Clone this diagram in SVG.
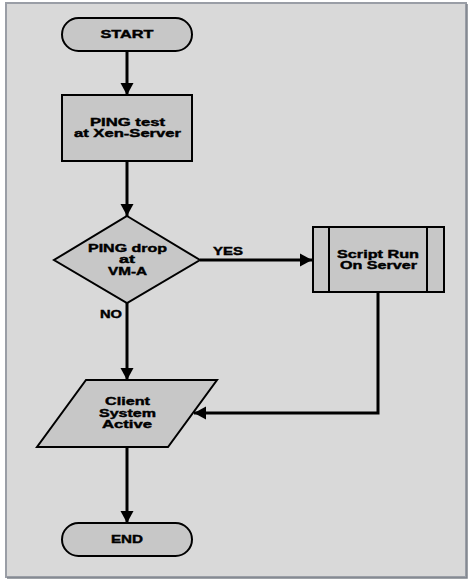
<svg xmlns="http://www.w3.org/2000/svg" width="474" height="585" viewBox="0 0 474 585">
<style>
.shape{fill:#c7c7c7;stroke:#000;stroke-width:2}
.conn{fill:none;stroke:#000;stroke-width:3}
text{font-family:"Liberation Sans",Arial,sans-serif;font-weight:bold;font-size:10.5px;fill:#000;stroke:#000;stroke-width:0.4;text-anchor:middle}
</style>
<defs>
<marker id="arr" markerUnits="userSpaceOnUse" markerWidth="14" markerHeight="14" viewBox="0 0 12 14" refX="12" refY="7" orient="auto">
<path d="M0,0.5 L12,7 L0,13.5 Z" fill="#000"/>
</marker>
</defs>
<rect x="0" y="0" width="474" height="585" fill="#fff"/>
<rect x="6" y="3" width="460" height="574" fill="#d9d9d9" stroke="#9a9ea6" stroke-width="2"/>
<path d="M467,4 V578 H7" fill="none" stroke="#7f848c" stroke-width="1.5"/>
<g id="connectors">
<path class="conn" d="M127,51 V95" marker-end="url(#arr)"/>
<path class="conn" d="M127,162 V216" marker-end="url(#arr)"/>
<path class="conn" d="M200,260 H312" marker-end="url(#arr)"/>
<path class="conn" d="M127,303 V380" marker-end="url(#arr)"/>
<path class="conn" d="M378,293 V413 H194" marker-end="url(#arr)"/>
<path class="conn" d="M127,447 V523" marker-end="url(#arr)"/>
<text x="228" y="255" textLength="30" lengthAdjust="spacingAndGlyphs">YES</text>
<text x="111" y="318" textLength="22" lengthAdjust="spacingAndGlyphs">NO</text>
</g>
<g id="start">
<rect class="shape" x="62" y="18" width="130" height="33" rx="16.5" ry="16.5"/>
<text x="127" y="38" textLength="53" lengthAdjust="spacingAndGlyphs">START</text>
</g>
<g id="ping-test">
<rect class="shape" x="62" y="95" width="130" height="66"/>
<text x="127.5" y="126" textLength="75" lengthAdjust="spacingAndGlyphs">PING test</text>
<text x="127.5" y="137" textLength="107" lengthAdjust="spacingAndGlyphs">at Xen-Server</text>
</g>
<g id="ping-drop">
<polygon class="shape" points="127,216 200,260 127,303 54,260"/>
<text x="127.5" y="252" textLength="79" lengthAdjust="spacingAndGlyphs">PING drop</text>
<text x="127" y="263" textLength="16" lengthAdjust="spacingAndGlyphs">at</text>
<text x="127.5" y="275" textLength="39" lengthAdjust="spacingAndGlyphs">VM-A</text>
</g>
<g id="script-run">
<rect class="shape" x="313" y="227" width="131" height="65"/>
<line x1="329" y1="227" x2="329" y2="292" stroke="#000" stroke-width="2"/>
<line x1="427" y1="227" x2="427" y2="292" stroke="#000" stroke-width="2"/>
<text x="378" y="258" textLength="82" lengthAdjust="spacingAndGlyphs">Script Run</text>
<text x="378.5" y="269" textLength="77" lengthAdjust="spacingAndGlyphs">On Server</text>
</g>
<g id="client-active">
<polygon class="shape" points="86,380 217,380 168,447 37,447"/>
<text x="127.5" y="405" textLength="45" lengthAdjust="spacingAndGlyphs">Client</text>
<text x="127.5" y="417" textLength="57" lengthAdjust="spacingAndGlyphs">System</text>
<text x="127" y="428" textLength="50" lengthAdjust="spacingAndGlyphs">Active</text>
</g>
<g id="end">
<rect class="shape" x="62" y="523" width="130" height="33" rx="16.5" ry="16.5"/>
<text x="127" y="543" textLength="32" lengthAdjust="spacingAndGlyphs">END</text>
</g>
</svg>
